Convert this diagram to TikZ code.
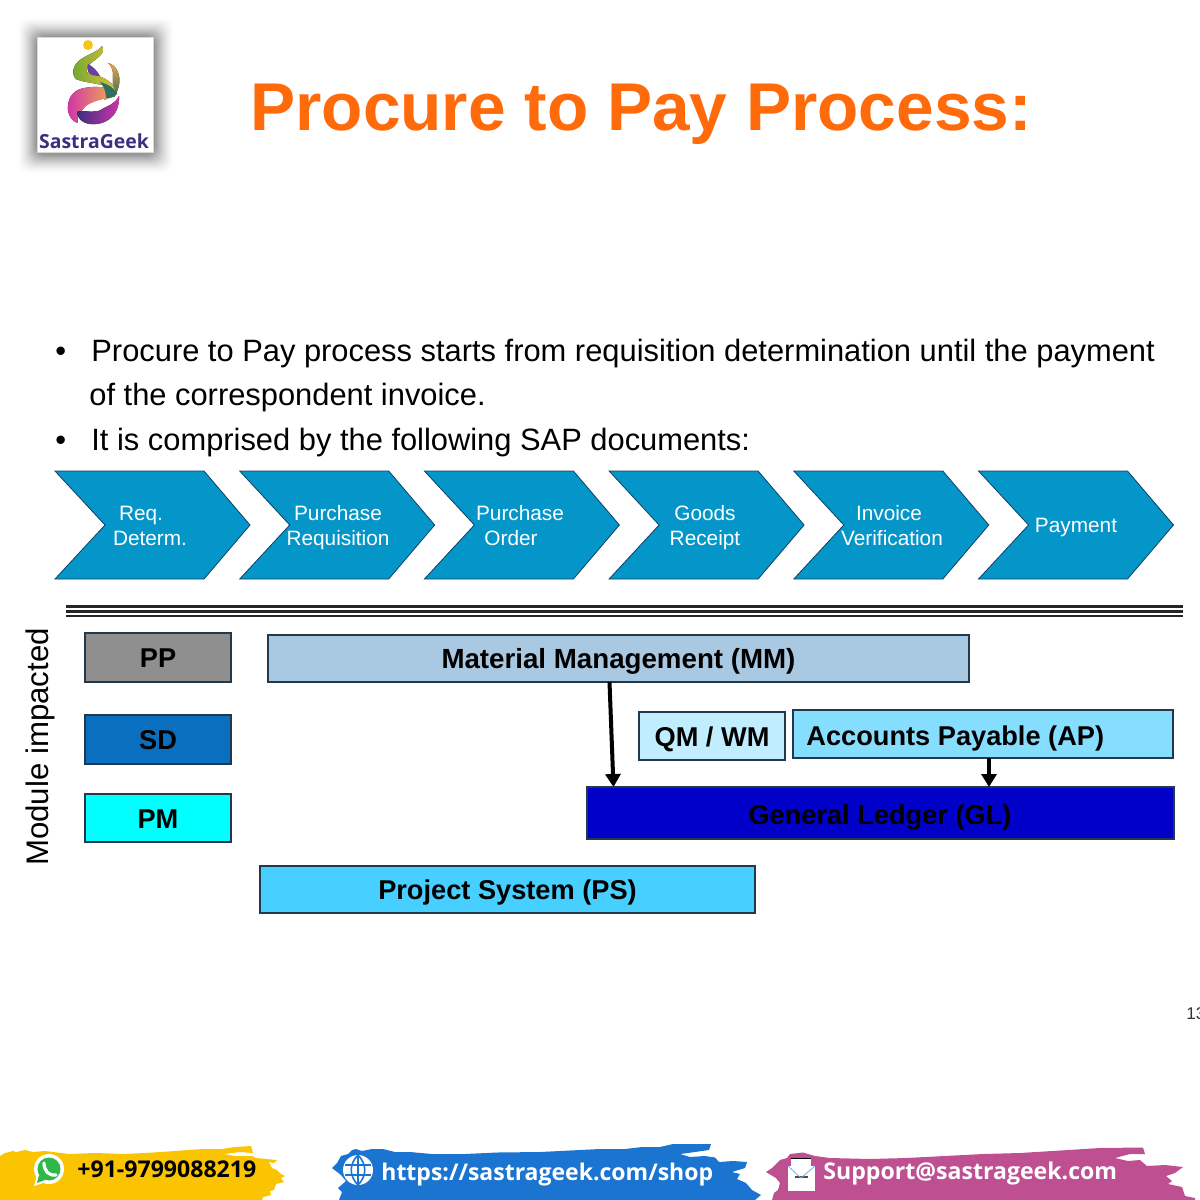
\documentclass[tikz,border=0pt]{standalone}
\usepackage{fontspec}
\setmainfont{Liberation Sans}
\newfontfamily\footfont{Open Sans}
\usetikzlibrary{arrows.meta}
\definecolor{titleor}{HTML}{FF6A0A}
\definecolor{chev}{HTML}{0596C9}
\definecolor{chevline}{HTML}{0F3F66}
\definecolor{ppfill}{HTML}{8F8F8F}
\definecolor{sdfill}{HTML}{0A6FBE}
\definecolor{pmfill}{HTML}{00FFFF}
\definecolor{mmfill}{HTML}{A9C8E2}
\definecolor{qmfill}{HTML}{C0EEFF}
\definecolor{apfill}{HTML}{86DEFF}
\definecolor{glfill}{HTML}{0000C8}
\definecolor{psfill}{HTML}{47CFFF}
\definecolor{boxline}{HTML}{22384C}
\definecolor{brushy}{HTML}{FBC400}
\definecolor{brushb}{HTML}{1B75D0}
\definecolor{brushp}{HTML}{BE4F91}
\definecolor{logotext}{HTML}{3C2F80}
\definecolor{wa}{HTML}{2FB84A}
\definecolor{lgmag}{HTML}{D233A8}
\definecolor{lgor}{HTML}{F0B84A}
\definecolor{lggreen}{HTML}{6FA832}
\definecolor{lgyel}{HTML}{E2C03A}
\definecolor{lgpur}{HTML}{6A3FA0}
\definecolor{lgteal}{HTML}{2F6F5F}
\definecolor{lgball}{HTML}{F5C518}
\tikzset{
  modbox/.style={draw=boxline,line width=0.6pt,inner sep=0pt,text height=10.2pt,text depth=0pt,font=\bfseries\fontsize{13.6}{16}\selectfont,text=black},
  chevron/.style={fill=chev,draw=chevline,line width=0.4pt},
  chevlabel/.style={text=white,align=center,font=\fontsize{10.4}{12.5}\selectfont,inner sep=0pt},
  bodytext/.style={anchor=base west,inner sep=0pt,font=\fontsize{15.43}{19}\selectfont},
  rule/.style={draw=black!85,line width=1.3pt},
  flowarrow/.style={draw=black,line width=2pt,-{Triangle[length=6.5pt,width=7.5pt]}},
  foottext/.style={anchor=base west,inner sep=0pt,font=\footfont\bfseries\fontsize{11.55}{15}\selectfont},
}
\begin{document}
\begin{tikzpicture}[x=0.5pt,y=-0.5pt]
\useasboundingbox (0,0) rectangle (1200,1200);
% logo shadow
\foreach \g in {20,19,...,1}{
  \pgfmathsetmacro{\shop}{0.003+0.0024*(20-\g)}
  \fill[black,opacity=\shop,rounded corners=5pt] (37-\g,37-\g) rectangle (154+\g,154+\g);
}
\fill[white] (37,37) rectangle (153,152);
\draw[black!15,line width=0.4pt] (37,37) rectangle (153,152);
% logo mark
\fill[left color=lgmag,right color=lgor]
  (84,88) .. controls (72,90) and (67,100) .. (68,110) .. controls (69,118) and (74,122) .. (78,123)
  .. controls (76,116) and (80,110) .. (88,106) .. controls (100,100) and (108,100) .. (117,94)
  .. controls (108,86) and (96,86) .. (84,88) -- cycle;
\fill[left color=logotext,right color=lgmag]
  (77,112) .. controls (78,122) and (88,125) .. (96,124) .. controls (110,123) and (120,112) .. (119,96)
  .. controls (115,104) and (108,106) .. (104,108) .. controls (100,112) and (92,112) .. (83,111)
  .. controls (81,111) and (79,111) .. (77,112) -- cycle;
\fill[white] (83,110) .. controls (86,104) and (96,101) .. (104,99) .. controls (105,106) and (92,113) .. (83,110) -- cycle;
\fill[bottom color=lgteal,top color=lgor!90!red]
  (108,63) .. controls (117,65) and (121,76) .. (119,85) .. controls (118,90) and (116,94) .. (114,97)
  .. controls (112,90) and (113,80) .. (113,74) .. controls (113,69) and (111,66) .. (108,63) -- cycle;
\fill[left color=lggreen,right color=lgyel]
  (102,46) .. controls (98,52) and (88,54) .. (80,60) .. controls (73,65) and (71,74) .. (76,79)
  .. controls (86,84) and (105,82) .. (115,92) .. controls (116,84) and (104,76) .. (90,74)
  .. controls (84,72) and (86,68) .. (92,62) .. controls (98,58) and (106,52) .. (102,46) -- cycle;
\fill[lgpur] (88,64) .. controls (92,66) and (97,70) .. (100,76) .. controls (95,76) and (90,75) .. (88,72) .. controls (87,69) and (87,66) .. (88,64) -- cycle;
\fill[lgteal] (100,82) .. controls (108,84) and (114,88) .. (117,93) .. controls (115,97) and (113,98) .. (106,98) .. controls (106,92) and (104,86) .. (100,82) -- cycle;
\fill[lgball] (88,45) circle[radius=5];
\node[inner sep=0pt,text=logotext,font=\footfont\bfseries\fontsize{9.7}{12}\selectfont] (logotxt) at (94,141) {SastraGeek};
% title
\node[anchor=base west,inner sep=0pt,text=titleor,font=\bfseries\fontsize{33.8}{38}\selectfont] (title) at (250,130) {Procure to Pay Process:};
% bullets
\node[bodytext] (b1dot) at (55,361) {•};
\node[bodytext] (b1a) at (91,361) {Procure to Pay process starts from requisition determination until the payment};
\node[bodytext] (b1b) at (89,405) {of the correspondent invoice.};
\node[bodytext] (b2dot) at (55,450) {•};
\node[bodytext] (b2a) at (91,450) {It is comprised by the following SAP documents:};
% chevrons
\foreach \dx in {0,184.7,369.4,554.1,738.8,923.5}{
  \path[chevron] (55+\dx,471) -- (204+\dx,471) -- (250+\dx,525) -- (204+\dx,579) -- (55+\dx,579) -- (105+\dx,525) -- cycle;
}
\node[chevlabel] (c1) at (150,526) {Req.\hspace*{9pt}\\Determ.};
\node[chevlabel] (c2) at (338,528) {Purchase\\Requisition};
\node[chevlabel] (c3) at (520,526) {Purchase\\Order\hspace*{9pt}};
\node[chevlabel] (c4) at (705,528) {Goods\\Receipt};
\node[chevlabel] (c5) at (892,526) {Invoice\hspace*{3pt}\\Verification};
\node[chevlabel] (c6) at (1076,527) {Payment};
% rule
\draw[rule] (66,606.7) -- (1183,606.7);
\draw[rule] (66,611.5) -- (1183,611.5);
\draw[rule] (66,616) -- (1183,616);
% module label
\node[rotate=90,inner sep=0pt,font=\fontsize{15.6}{18}\selectfont] (modlab) at (40,747) {Module impacted};
% boxes
\node[modbox,fill=ppfill,minimum width=73pt,minimum height=24.5pt] (pp) at (158,657.5) {PP};
\node[modbox,fill=sdfill,minimum width=73pt,minimum height=24.5pt] (sd) at (158,739.5) {SD};
\node[modbox,fill=pmfill,minimum width=73pt,minimum height=24pt] (pm) at (158,818) {PM};
\node[modbox,fill=mmfill,minimum width=350.5pt,minimum height=23.5pt,font=\bfseries\fontsize{13.85}{16}\selectfont] (mm) at (618.5,658.5) {Material Management (MM)};
\node[modbox,fill=qmfill,minimum width=73pt,minimum height=24pt] (qm) at (712,736) {QM / WM};
\node[modbox,fill=apfill,minimum width=190pt,minimum height=24pt] (ap) at (983,734) {};
\node[anchor=west,inner sep=0pt,font=\bfseries\fontsize{13.6}{16}\selectfont] (aplab) at (806,738) {Accounts Payable (AP)};
\node[modbox,fill=glfill,minimum width=293.5pt,minimum height=26pt] (gl) at (880.5,813) {};
\node[inner sep=0pt,font=\bfseries\fontsize{13.6}{16}\selectfont] (gllab) at (880,818) {General Ledger (GL)};
\node[modbox,fill=psfill,minimum width=247.5pt,minimum height=23.5pt] (ps) at (507.5,889.5) {Project System (PS)};
% connectors
\coordinate (mmout) at (609.5,682);
\coordinate (glinl) at (613.5,787);
\coordinate (apout) at (989,758);
\coordinate (glinr) at (989,787);
\draw[flowarrow] (mmout) -- (glinl);
\draw[flowarrow] (apout) -- (glinr);
% page number
\node[anchor=base west,inner sep=0pt,font=\fontsize{8.5}{10}\selectfont,text=black!80] (pageno) at (1186,1019) {13};
% footer brushes
\fill[brushy] (0,1156) -- (5,1153) -- (13,1151) -- (16,1152) -- (25,1150) -- (33,1152) -- (45,1151) -- (69,1154) -- (95,1153) -- (125,1154) -- (153,1152.5) -- (175,1151) -- (203,1149) -- (222,1149) -- (235,1147) -- (251,1146) -- (253,1153) -- (240,1152) -- (224,1154) -- (235,1156) -- (252,1156) -- (256,1158) -- (277,1160) -- (274,1163) -- (269,1162) -- (272,1168) -- (277,1170) -- (281,1174) -- (285,1176) -- (281,1178) -- (284,1182) -- (276,1184) -- (274,1190) -- (270,1191) -- (271,1195) -- (263,1197) -- (262,1200) -- (0,1200) -- cycle;
\fill[brushb] (332,1168) -- (337,1163) -- (341,1156) -- (348,1154) -- (352,1150) -- (356,1149) -- (362,1151) -- (372,1149) -- (383,1149) -- (395,1152) -- (410,1152) -- (432,1154) -- (465,1154) -- (497,1152.5) -- (540,1152) -- (600,1149) -- (625,1149) -- (642,1147) -- (660,1147) -- (673,1144) -- (711,1144) -- (709,1150) -- (695,1152) -- (680,1154) -- (690,1157) -- (705,1156) -- (715,1157.5) -- (719,1162) -- (733,1161) -- (747,1162) -- (745,1168) -- (732,1172) -- (740,1174) -- (737,1179) -- (746,1183) -- (752,1190) -- (761,1195) -- (755,1200) -- (339,1200) -- (342,1192) -- (338,1188) -- (346,1181) -- (341,1175) -- cycle;
\fill[brushp] (766,1172) -- (772,1168) -- (780,1160) -- (787,1158) -- (790,1154) -- (803,1152.5) -- (815,1156) -- (830,1158) -- (870,1159) -- (906,1158) -- (945,1156) -- (983,1154) -- (1020,1153) -- (1059,1150.6) -- (1100,1148) -- (1143,1147.5) -- (1145,1154) -- (1130,1154) -- (1115,1158) -- (1128,1161) -- (1140,1160) -- (1147,1166) -- (1165,1165) -- (1183,1167) -- (1175,1173) -- (1166,1176) -- (1172,1181) -- (1168,1184) -- (1182,1187) -- (1185,1196) -- (1195,1198) -- (1195,1200) -- (772,1200) -- (774,1193) -- (778,1190) -- (780,1183) -- (776,1178) -- cycle;
% whatsapp icon
\fill[white] (49,1169) circle[radius=15];
\fill[white] (37,1175) -- (34,1186) -- (46,1182) -- cycle;
\fill[wa] (49,1169) circle[radius=11.5];
\fill[wa] (39,1175) -- (37,1183) -- (45,1180) -- cycle;
\draw[white,line width=1.6pt,line cap=round] (44,1163) .. controls (44,1171) and (49,1176) .. (56,1175);
% globe icon
\fill[white] (358,1170) circle[radius=15];
\draw[brushb,line width=0.8pt] (345,1165) -- (371,1165) (345,1175) -- (371,1175) (358,1155) -- (358,1185);
\draw[brushb,line width=0.8pt] (358,1155) .. controls (349,1164) and (349,1176) .. (358,1185) (358,1155) .. controls (367,1164) and (367,1176) .. (358,1185);
% mail icon
\fill[white] (788,1166) rectangle (815,1191);
\fill[white] (791,1158) rectangle (811,1168);
\draw[black,line width=0.5pt] (791,1158) -- (811,1158);
\draw[black!70,line width=0.8pt] (795,1177) -- (808,1177);
\draw[brushb!60,line width=0.4pt] (788,1166) -- (801,1178) -- (815,1166);
% footer text
\node[foottext,text=black] (phone) at (77,1177) {+91-9799088219};
\node[foottext,text=white,font=\footfont\bfseries\fontsize{11.5}{15}\selectfont] (site) at (381,1180) {https://sastrageek.com/shop};
\node[foottext,text=white] (mail) at (823,1179) {Support@sastrageek.com};
\end{tikzpicture}
\end{document}
